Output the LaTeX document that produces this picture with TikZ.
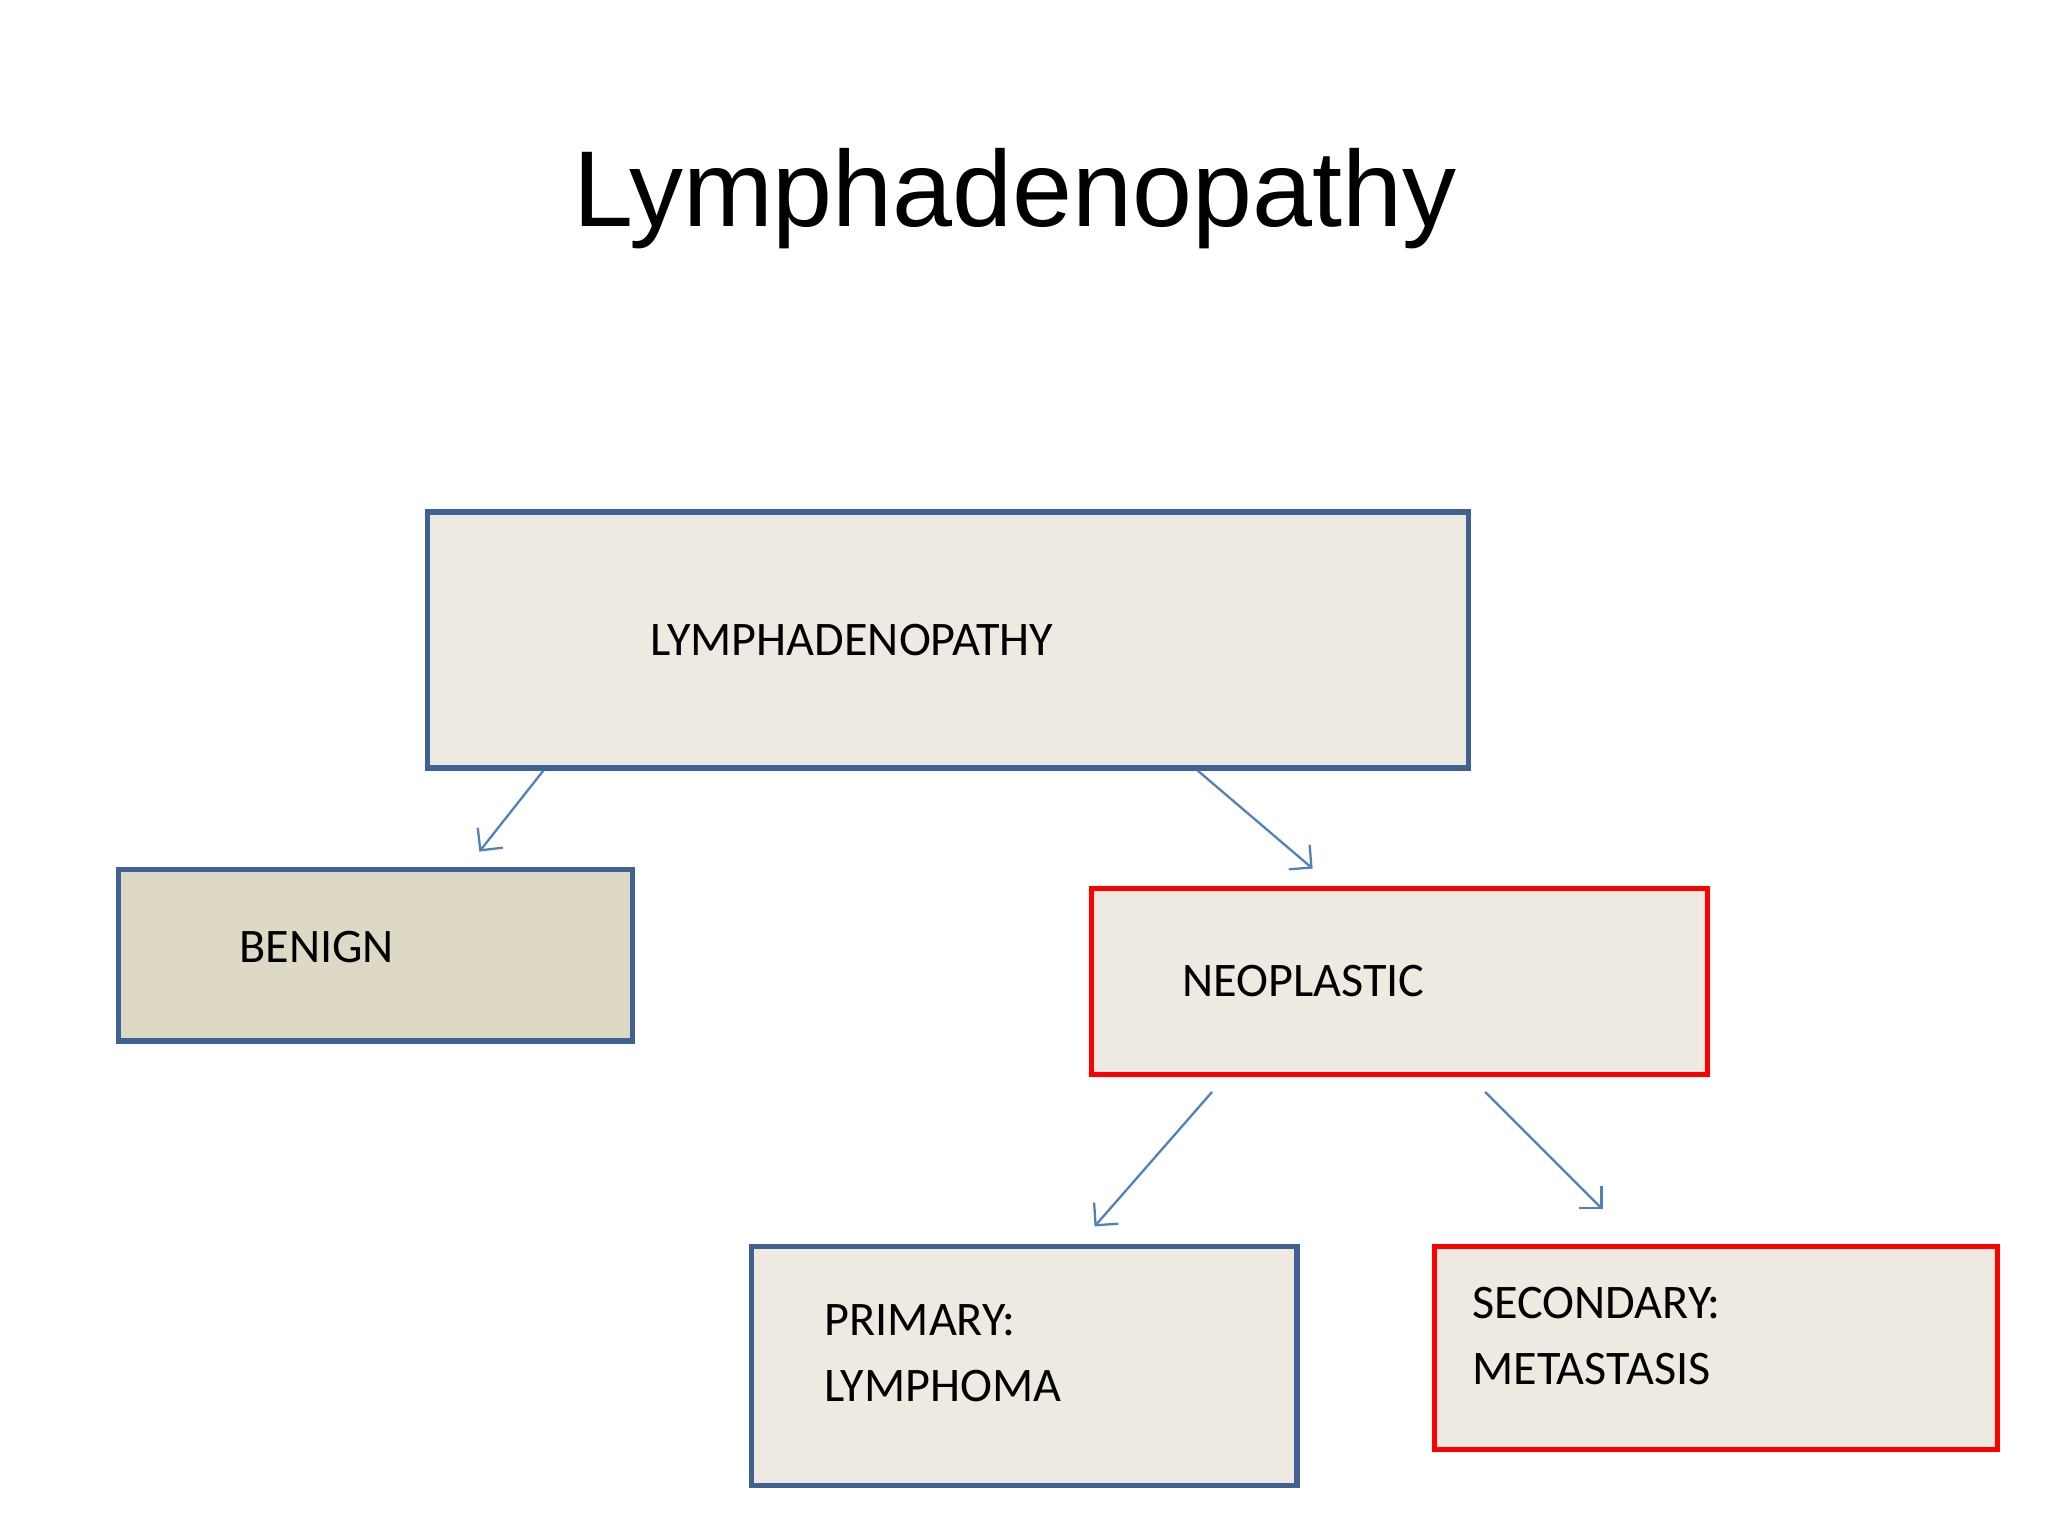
\documentclass[tikz,border=0pt]{standalone}
\usepackage{fontspec}
\setmainfont{Carlito}
\newfontfamily\titlefont{Liberation Sans}
\usetikzlibrary{arrows.meta}
\definecolor{bblue}{HTML}{3F6194}
\definecolor{lblue}{HTML}{4F81BD}
\definecolor{boxfill}{HTML}{EEEAE1}
\definecolor{benfill}{HTML}{DDD9C5}
\begin{document}
\begin{tikzpicture}[x=0.02cm,y=-0.02cm,
  box/.style={draw=bblue,line width=2.2pt,fill=boxfill},
  rbox/.style={draw=red,line width=2.2pt,fill=boxfill},
  lab/.style={anchor=west,font=\fontsize{21}{29}\selectfont,align=left,inner sep=0pt},
  conn/.style={draw=lblue,line width=1pt,-{Straight Barb[length=7pt,width=14pt]}}]
\useasboundingbox (0,0) rectangle (1568,1176);
\node[font=\titlefont\fontsize{47}{50}\selectfont] (title) at (777,152) {Lymphadenopathy};
\draw[box] (327,392) rectangle (1124,588);
\coordinate (topL) at (416,590); \coordinate (topR) at (917,590);
\node[lab] (t1) at (498,490) {LYMPHADENOPATHY};
\draw[box,fill=benfill] (91,666) rectangle (484,797);
\node[lab] (t2) at (183,725) {BENIGN};
\draw[rbox] (836,680) rectangle (1307,823);
\node[lab] (t3) at (905,751) {NEOPLASTIC};
\draw[box] (575,954) rectangle (993,1137);
\node[lab] (t4) at (631,1036) {PRIMARY:\\LYMPHOMA};
\draw[rbox] (1098,954) rectangle (1529,1110);
\node[lab] (t5) at (1127,1023) {SECONDARY:\\METASTASIS};
\coordinate (a1) at (367,652); \coordinate (a2) at (1005,665);
\coordinate (nL) at (928,836); \coordinate (nR) at (1137,836);
\coordinate (a3) at (838,939); \coordinate (a4) at (1227,926);
\draw[conn] (topL) -- (a1);
\draw[conn] (topR) -- (a2);
\draw[conn] (nL) -- (a3);
\draw[conn] (nR) -- (a4);
\end{tikzpicture}
\end{document}
